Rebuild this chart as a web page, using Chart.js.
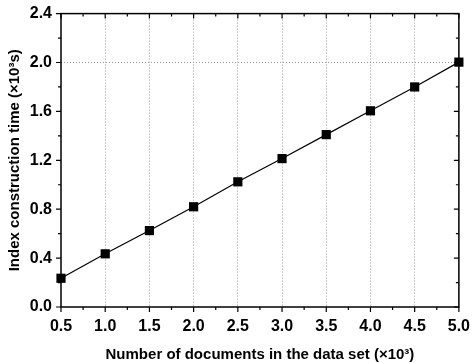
<!DOCTYPE html>
<html>
<head>
<meta charset="utf-8">
<script src="https://cdn.jsdelivr.net/npm/chart.js@4"></script>
<style>
  html, body { margin: 0; padding: 0; background: #fff; }
  #wrap { width: 474px; height: 364px; }
</style>
</head>
<body>
<div id="wrap"><canvas id="chart" width="474" height="364"></canvas></div>
<script>
// data
const docCounts = [0.5, 1.0, 1.5, 2.0, 2.5, 3.0, 3.5, 4.0, 4.5, 5.0];
const buildTimes = [0.235, 0.435, 0.625, 0.82, 1.024, 1.214, 1.41, 1.605, 1.80, 2.003];
const xTicks = [0.5, 1.0, 1.5, 2.0, 2.5, 3.0, 3.5, 4.0, 4.5, 5.0];
const yTicks = [0.0, 0.4, 0.8, 1.2, 1.6, 2.0, 2.4];
const yGridAt = [2.0];

const FONT = 'Liberation Sans, Arial, sans-serif';

// frame + inward/outward ticks like the Origin plot
const framePlugin = {
    id: 'frame',
    afterDraw(chart) {
        const { ctx, chartArea: a, scales } = chart;
        const x = scales.x, y = scales.y;
        ctx.save();
        ctx.strokeStyle = '#000';
        ctx.lineWidth = 1.5;
        ctx.strokeRect(a.left, a.top, a.right - a.left, a.bottom - a.top);
        ctx.lineWidth = 1.2;
        ctx.beginPath();
        // x ticks: major + minor
        for (let i = 0; i < xTicks.length; i++) {
            const px = x.getPixelForValue(xTicks[i]);
            ctx.moveTo(px, a.bottom); ctx.lineTo(px, a.bottom + 5);
            ctx.moveTo(px, a.top); ctx.lineTo(px, a.top + 5);
            if (i < xTicks.length - 1) {
                const mx = x.getPixelForValue((xTicks[i] + xTicks[i + 1]) / 2);
                ctx.moveTo(mx, a.bottom); ctx.lineTo(mx, a.bottom + 3);
                ctx.moveTo(mx, a.top); ctx.lineTo(mx, a.top + 3);
            }
        }
        // y ticks: major + minor
        for (let i = 0; i < yTicks.length; i++) {
            const py = y.getPixelForValue(yTicks[i]);
            ctx.moveTo(a.left, py); ctx.lineTo(a.left - 5, py);
            ctx.moveTo(a.right, py); ctx.lineTo(a.right - 5, py);
            if (i < yTicks.length - 1) {
                const my = y.getPixelForValue((yTicks[i] + yTicks[i + 1]) / 2);
                ctx.moveTo(a.left, my); ctx.lineTo(a.left - 3, my);
                ctx.moveTo(a.right, my); ctx.lineTo(a.right - 3, my);
            }
        }
        ctx.stroke();
        ctx.restore();
    }
};

new Chart(document.getElementById('chart'), {
    type: 'line',
    data: {
        datasets: [{
            data: docCounts.map((v, i) => ({ x: v, y: buildTimes[i] })),
            borderColor: '#000',
            borderWidth: 1.2,
            backgroundColor: '#000',
            pointStyle: 'rect',
            pointRadius: 6.5,
            pointBorderWidth: 0,
            tension: 0,
            clip: false
        }]
    },
    options: {
        responsive: false,
        animation: false,
        layout: { padding: { top: 11, right: 12, left: 0, bottom: 0 } },
        plugins: { legend: { display: false }, tooltip: { enabled: false } },
        scales: {
            x: {
                type: 'linear',
                min: 0.5,
                max: 5.0,
                afterFit(s) { s.height = 57; },
                afterBuildTicks(s) { s.ticks = xTicks.map(v => ({ value: v })); },
                ticks: {
                    callback: v => v.toFixed(1),
                    color: '#000',
                    font: { family: FONT, size: 16, weight: 'bold' },
                    padding: 4,
                    maxRotation: 0
                },
                grid: {
                    color: c => (c.tick && c.tick.value > 0.5 && c.tick.value < 5.0) ? '#9a9a9a' : 'rgba(0,0,0,0)',
                    lineWidth: 1,
                    drawTicks: true,
                    tickLength: 6,
                    tickColor: 'rgba(0,0,0,0)'
                },
                border: { display: false, dash: [1, 2] },
                title: {
                    display: true,
                    text: 'Number of documents in the data set (×10³)',
                    color: '#000',
                    font: { family: FONT, size: 15, weight: 'bold' },
                    padding: { top: 6, bottom: 0 }
                }
            },
            y: {
                type: 'linear',
                min: 0,
                max: 2.4,
                afterFit(s) { s.width = 61; },
                afterBuildTicks(s) { s.ticks = yTicks.map(v => ({ value: v })); },
                ticks: {
                    callback: v => v.toFixed(1),
                    color: '#000',
                    font: { family: FONT, size: 16, weight: 'bold' },
                    padding: 4
                },
                grid: {
                    color: c => (c.tick && yGridAt.includes(Math.round(c.tick.value * 10) / 10)) ? '#9a9a9a' : 'rgba(0,0,0,0)',
                    lineWidth: 1,
                    drawTicks: true,
                    tickLength: 5,
                    tickColor: 'rgba(0,0,0,0)'
                },
                border: { display: false, dash: [1, 2] },
                title: {
                    display: true,
                    text: 'Index construction time (×10³s)',
                    color: '#000',
                    font: { family: FONT, size: 15, weight: 'bold' },
                    padding: { top: 6, bottom: 4 }
                }
            }
        }
    },
    plugins: [framePlugin]
});
</script>
</body>
</html>
